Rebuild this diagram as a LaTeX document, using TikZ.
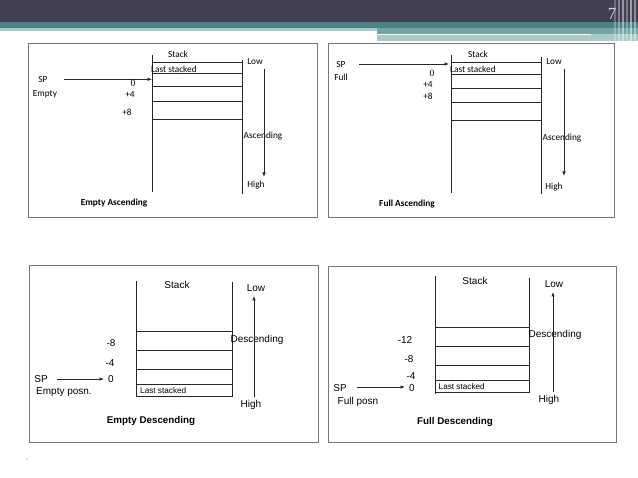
\documentclass[tikz,border=0pt]{standalone}
\usepackage{fontspec}
\setmainfont{Carlito}
\newfontfamily\arialf{Liberation Sans}
\newfontfamily\seriff{Liberation Serif}
\usetikzlibrary{arrows.meta}
\definecolor{hdark}{RGB}{64,64,82}
\definecolor{hteal}{RGB}{72,132,132}
\definecolor{hmid}{RGB}{118,164,164}
\definecolor{hlight}{RGB}{170,202,202}
\definecolor{framec}{RGB}{120,120,120}
\tikzset{
  frame/.style={draw=framec, line width=0.9pt},
  stk/.style={draw=black!85, line width=0.7pt},
  lbl/.style={inner sep=0pt, font=\fontsize{9.3}{11}\selectfont},
  lblb/.style={inner sep=0pt, font=\fontsize{9.3}{11}\selectfont\bfseries},
  albl/.style={inner sep=0pt, font=\arialf\fontsize{10}{12}\selectfont},
  ablb/.style={inner sep=0pt, font=\arialf\fontsize{9.8}{12}\selectfont\bfseries},
  asml/.style={inner sep=0pt, font=\arialf\fontsize{8.2}{10}\selectfont},
  zero/.style={inner sep=0pt, font=\seriff\fontsize{9.5}{11}\selectfont},
  arr/.style={-{Latex[length=4.5pt,width=3.5pt]}, line width=0.7pt, draw=black!85},
}
\begin{document}
\begin{tikzpicture}[x=1pt,y=-1pt]
\useasboundingbox (0,0) rectangle (638,478);
\fill[white] (0,0) rectangle (638,478);
% header
\fill[hdark] (0,0) rectangle (638,22);
\fill[hteal] (0,22) rectangle (638,28);
\fill[hlight] (0,28) rectangle (377,31);
\fill[hmid] (377,28) rectangle (638,34);
\fill[hlight] (377,34) rectangle (638,41);
\fill[white] (377,34) rectangle (591,35.5);
\foreach \xx/\ww/\oo in {614/1.5/0.25,618/2/0.35,622/1.5/0.45,626/2/0.3,630/1.5/0.5,634/2/0.4}
  \fill[white, opacity=\oo] (\xx,0) rectangle (\xx+\ww,43);
\node[inner sep=0pt, text=black!18, font=\seriff\fontsize{17}{18}\selectfont] (pg) at (612,14) {7};

% ---------- Panel 1: Empty Ascending ----------
\draw[frame] (28,43) rectangle (317,217);
\draw[stk] (152,55) -- (152,192);
\draw[stk] (242,60) -- (242,194);
\foreach \yy in {62.7,73.7,86.7,101.3,119.3} \draw[stk] (152,\yy) -- (242,\yy);
\node[lbl] (st1) at (178,54) {Stack};
\node[lbl, anchor=west] (ls1) at (151,69) {Last stacked};
\node[lbl] (lo1) at (255,62) {Low};
\node[lbl] (as1) at (263,136) {Ascending};
\node[lbl] (hi1) at (256,185) {High};
\coordinate (d1s) at (264,69);
\coordinate (d1e) at (264,177);
\draw[arr] (d1s) -- (d1e);
\node[lbl] (sp1) at (43,80) {SP};
\node[lbl] (em1) at (45,94) {Empty};
\coordinate (p1s) at (64,79.3);
\coordinate (p1e) at (152,79.3);
\draw[arr] (p1s) -- (p1e);
\node[zero] (z1) at (133,83) {0};
\node[lbl] (f41) at (130,94.5) {+4};
\node[lbl] (f81) at (127,112) {+8};
\node[lblb] (t1) at (114,203) {Empty Ascending};

% ---------- Panel 2: Full Ascending ----------
\draw[frame] (328,43) rectangle (614,217);
\draw[stk] (451,55) -- (451,193);
\draw[stk] (541,57) -- (541,194);
\foreach \yy in {62.7,74,88.7,102.7,120.7} \draw[stk] (451,\yy) -- (541,\yy);
\node[lbl] (st2) at (478,54) {Stack};
\node[lbl, anchor=west] (ls2) at (450,69.7) {Last stacked};
\node[lbl] (lo2) at (554,62) {Low};
\node[lbl] (as2) at (562,138) {Ascending};
\node[lbl] (hi2) at (554,187) {High};
\coordinate (d2s) at (564,69);
\coordinate (d2e) at (564,176);
\draw[arr] (d2s) -- (d2e);
\node[lbl] (sp2) at (341,65) {SP};
\node[lbl] (fu2) at (341,77) {Full};
\coordinate (p2s) at (359,64);
\coordinate (p2e) at (449,64);
\draw[arr] (p2s) -- (p2e);
\node[zero] (z2) at (432,73) {0};
\node[lbl] (f42) at (428,85) {+4};
\node[lbl] (f82) at (428,96.5) {+8};
\node[lblb] (t2) at (407,204) {Full Ascending};

% ---------- Panel 3: Empty Descending ----------
\draw[frame] (29,265) rectangle (318,442);
\draw[stk] (136,281) -- (136,397);
\draw[stk] (232,282) -- (232,397);
\foreach \yy in {331,350.3,369.3,384.3,396.7} \draw[stk] (136,\yy) -- (232,\yy);
\node[albl] (st3) at (177,285) {Stack};
\node[albl] (lo3) at (256,288) {Low};
\node[albl] (de3) at (257,340) {Descending};
\node[albl] (hi3) at (251,405) {High};
\coordinate (u3s) at (254,397);
\coordinate (u3e) at (254,296);
\draw[arr] (u3s) -- (u3e);
\node[albl] (m83) at (111,343) {-8};
\node[albl] (m43) at (110,363) {-4};
\node[albl] (z3) at (111,379.5) {0};
\node[albl] (sp3) at (41,379.5) {SP};
\node[albl] (ep3) at (64,392) {Empty posn.};
\coordinate (p3s) at (57,379);
\coordinate (p3e) at (104,379);
\draw[arr] (p3s) -- (p3e);
\node[asml, anchor=west] (ls3) at (140,390.5) {Last stacked};
\node[ablb] (t3) at (151,421) {Empty Descending};

% ---------- Panel 4: Full Descending ----------
\draw[frame] (328,266) rectangle (616,442);
\draw[stk] (435,276) -- (435,394);
\draw[stk] (529,278) -- (529,393);
\foreach \yy in {327.7,346.7,365.7,380.7,392.7} \draw[stk] (435,\yy) -- (529,\yy);
\node[albl] (st4) at (475,281) {Stack};
\node[albl] (lo4) at (554,284) {Low};
\node[albl] (de4) at (555,335) {Descending};
\node[albl] (hi4) at (549,400) {High};
\coordinate (u4s) at (553,392);
\coordinate (u4e) at (553,292);
\draw[arr] (u4s) -- (u4e);
\node[albl] (m124) at (405,340) {-12};
\node[albl] (m84) at (409,359) {-8};
\node[albl] (m44) at (411,376) {-4};
\node[albl] (z4) at (412,388) {0};
\node[albl] (sp4) at (340,388) {SP};
\node[albl] (fp4) at (358,402) {Full posn};
\coordinate (p4s) at (357,387);
\coordinate (p4e) at (405,387);
\draw[arr] (p4s) -- (p4e);
\node[asml, anchor=west] (ls4) at (438.5,387) {Last stacked};
\node[ablb] (t4) at (455,422) {Full Descending};

% stray dot
\fill[black!50] (27,459) circle (0.7);
\end{tikzpicture}
\end{document}
